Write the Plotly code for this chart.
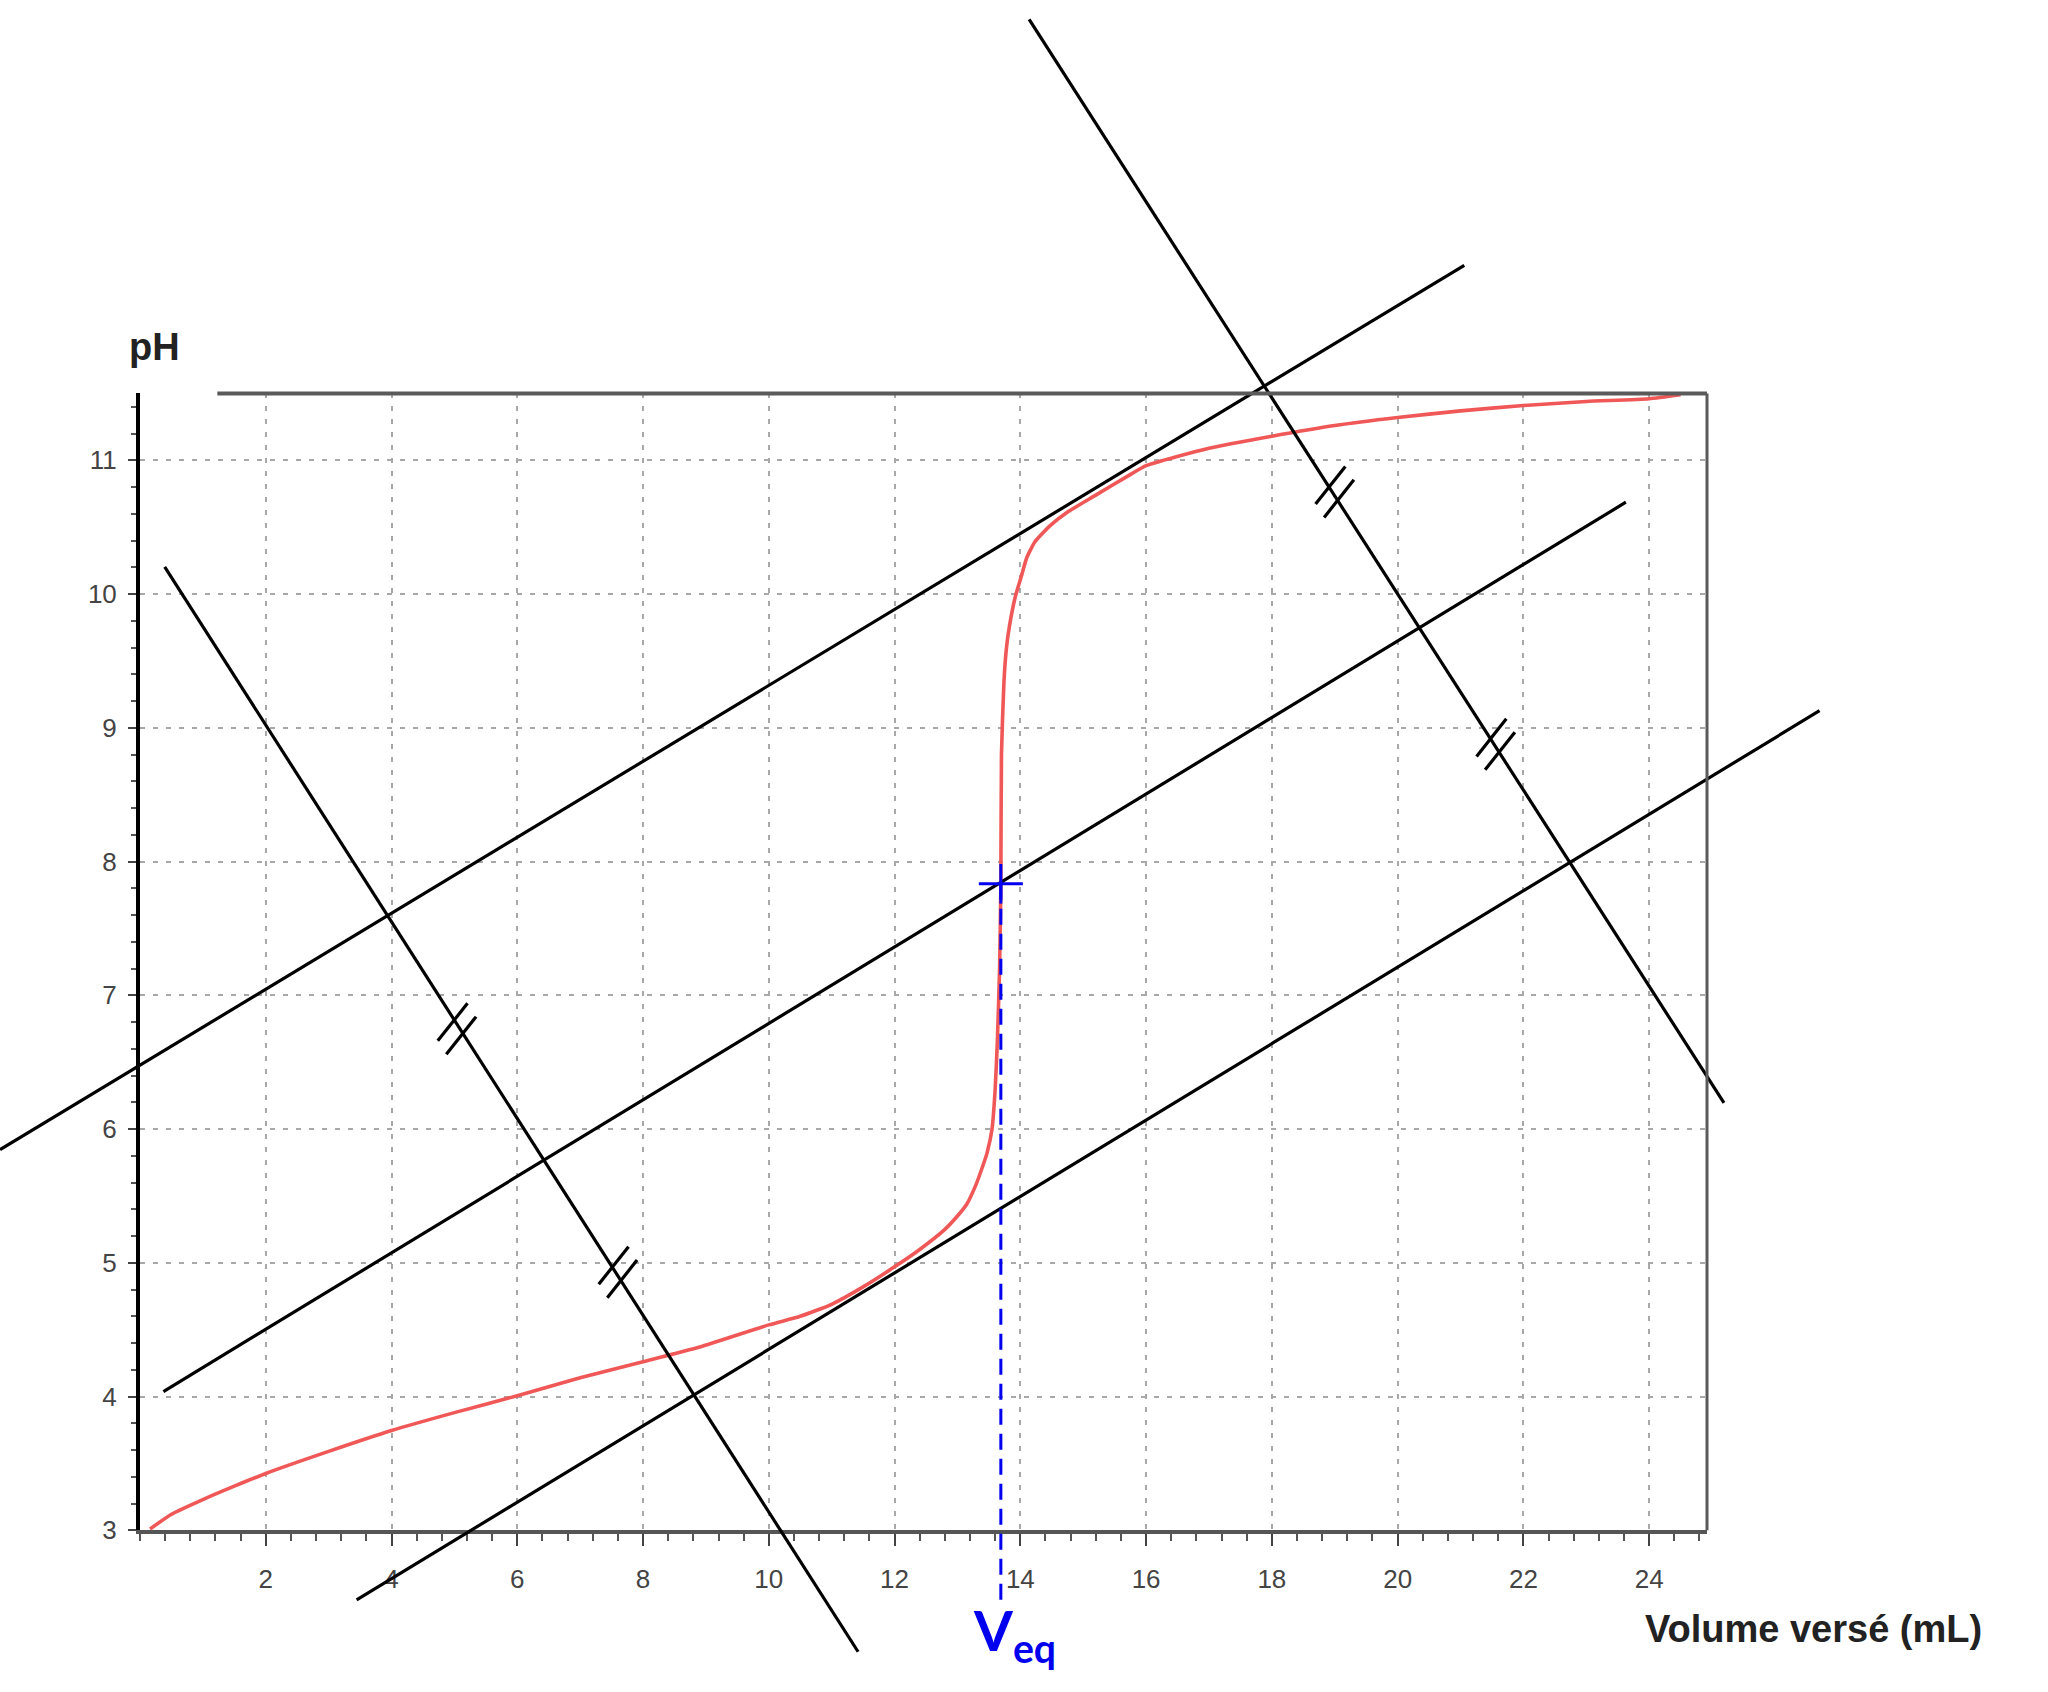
import plotly.graph_objects as go

# ---------------- data ----------------
volume_ml = [0.16, 0.5, 1, 1.5, 2, 3, 4, 5, 6, 7, 8, 8.9, 10, 10.5, 11, 11.5, 12,
             12.4, 12.8, 13.0, 13.15, 13.3, 13.4, 13.47, 13.55, 13.6, 13.635,
             13.67, 13.69, 13.70, 13.74, 13.78, 13.83, 13.92, 14.02, 14.10, 14.23,
             14.47, 14.74, 15.2, 15.7, 16, 17, 18, 19, 20, 21, 22, 23, 24, 24.5]
ph_values = [3.01, 3.12, 3.23, 3.33, 3.425, 3.59, 3.746, 3.88, 4.006, 4.14, 4.26,
             4.37, 4.536, 4.60, 4.69, 4.82, 4.97, 5.10, 5.25, 5.35, 5.44, 5.59,
             5.72, 5.82, 6.0, 6.3, 6.66, 7.2, 7.83, 8.8, 9.35, 9.6, 9.77, 9.98,
             10.14, 10.27, 10.39, 10.51, 10.61, 10.74, 10.88, 10.96, 11.09, 11.18,
             11.26, 11.32, 11.37, 11.41, 11.44, 11.46, 11.49]

x_tick_vals = [2, 4, 6, 8, 10, 12, 14, 16, 18, 20, 22, 24]
y_tick_vals = [3, 4, 5, 6, 7, 8, 9, 10, 11]

# construction lines (three parallel tangents), endpoints in (mL, pH)
tangent_v0 = [-2.225, 0.372, 3.445]
tangent_ph0 = [5.846, 4.0375, 2.48]
tangent_v1 = [21.06, 23.63, 26.71]
tangent_ph1 = [12.458, 10.687, 9.128]

# perpendicular lines
perp_v0 = [0.393, 14.14]
perp_ph0 = [10.203, 14.297]
perp_v1 = [11.42, 25.19]
perp_ph1 = [2.092, 6.196]

# equal-length marks (double hash) centres
hash_v = [5.04, 7.60, 19.00, 21.56]
hash_ph = [6.75, 4.93, 10.764, 8.877]

# equivalence point
v_eq = 13.69
ph_eq = 7.834
veq_line_bottom_ph = 2.44

# ---------------- layout geometry ----------------
W, H = 2048, 1692
PL, PR, PT, PB = 140, 1707, 397, 1544
X_RANGE = [0, 24.92]
Y_RANGE = [3, 11.5]
sx = (PR - PL) / (X_RANGE[1] - X_RANGE[0])
sy = (PB - PT) / (Y_RANGE[1] - Y_RANGE[0])
x2_range = [X_RANGE[0] - PL / sx, X_RANGE[1] + (W - PR) / sx]
y2_range = [Y_RANGE[0] - (H - PB) / sy, Y_RANGE[1] + PT / sy]

fig = go.Figure()

# titration curve
fig.add_trace(go.Scatter(x=volume_ml, y=ph_values, mode="lines",
                         line=dict(color="#f05858", width=3.6, shape="spline",
                                   smoothing=0.5),
                         xaxis="x", yaxis="y", hoverinfo="skip",
                         showlegend=False))

# black construction lines on overlay axes
bx, by = [], []
for a, b, c, d in zip(tangent_v0, tangent_ph0, tangent_v1, tangent_ph1):
    bx += [a, c, None]
    by += [b, d, None]
for a, b, c, d in zip(perp_v0, perp_ph0, perp_v1, perp_ph1):
    bx += [a, c, None]
    by += [b, d, None]
# hash marks: two short strokes across the perpendicular line
for hv, hp in zip(hash_v, hash_ph):
    for off in (-8, 8):
        cxp = 0.535 * off
        cyp = 0.845 * off
        half = 24
        dxp, dyp = 0.62 * half, -0.79 * half
        x0 = hv + (cxp - dxp) / sx
        x1 = hv + (cxp + dxp) / sx
        y0 = hp - (cyp - dyp) / sy
        y1 = hp - (cyp + dyp) / sy
        bx += [x0, x1, None]
        by += [y0, y1, None]
fig.add_trace(go.Scatter(x=bx, y=by, mode="lines",
                         line=dict(color="black", width=3.2),
                         xaxis="x2", yaxis="y2", hoverinfo="skip",
                         showlegend=False))

# blue cross and dashed line
cross_half_v = 22 / sx
cross_half_ph = 20 / sy
fig.add_trace(go.Scatter(
    x=[v_eq - cross_half_v, v_eq + cross_half_v, None, v_eq, v_eq],
    y=[ph_eq, ph_eq, None, ph_eq + cross_half_ph, ph_eq - cross_half_ph],
    mode="lines", line=dict(color="#0000ee", width=3),
    xaxis="x2", yaxis="y2", hoverinfo="skip", showlegend=False))
fig.add_trace(go.Scatter(
    x=[v_eq, v_eq], y=[ph_eq, veq_line_bottom_ph],
    mode="lines", line=dict(color="#0000ee", width=3, dash="16px,9px"),
    xaxis="x2", yaxis="y2", hoverinfo="skip", showlegend=False))

tick_font = dict(family="Liberation Sans, Arial, sans-serif", size=26, color="#444")

fig.update_layout(
    width=W, height=H,
    margin=dict(l=0, r=0, t=0, b=0),
    paper_bgcolor="white",
    plot_bgcolor="rgba(0,0,0,0)",
    showlegend=False,
    xaxis=dict(domain=[PL / W, PR / W], range=X_RANGE, anchor="y",
               tickvals=x_tick_vals, ticktext=[str(v) for v in x_tick_vals],
               tickfont=tick_font, ticks="outside", ticklen=12, tickwidth=2,
               tickcolor="#444", ticklabelstandoff=10,
               showline=True, linecolor="#555", linewidth=4,
               showgrid=True, gridcolor="#a8a8a8", gridwidth=2,
               griddash="5px,8px", zeroline=False,
               minor=dict(dtick=0.4, tick0=0, ticks="outside", ticklen=7,
                          tickwidth=1.5, tickcolor="#555", showgrid=False)),
    yaxis=dict(domain=[(H - PB) / H, (H - PT) / H], range=Y_RANGE, anchor="x",
               tickvals=y_tick_vals, ticktext=[str(v) for v in y_tick_vals],
               tickfont=tick_font, ticks="outside", ticklen=8, tickwidth=2,
               tickcolor="#444", ticklabelstandoff=6,
               showline=True, linecolor="black", linewidth=4,
               showgrid=True, gridcolor="#a8a8a8", gridwidth=2,
               griddash="5px,8px", zeroline=False,
               minor=dict(dtick=0.2, tick0=3, ticks="outside", ticklen=5,
                          tickwidth=1.5, tickcolor="#555", showgrid=False)),
    xaxis2=dict(domain=[0, 1], range=x2_range, anchor="y2", visible=False,
                showgrid=False, zeroline=False),
    yaxis2=dict(domain=[0, 1], range=y2_range, anchor="x2", visible=False,
                showgrid=False, zeroline=False),
)

# frame: top (partial) and right borders (on the full-figure overlay axes)
fig.add_shape(type="line", xref="x2", yref="y2", x0=1.23, x1=X_RANGE[1],
              y0=Y_RANGE[1], y1=Y_RANGE[1], line=dict(color="#5a5a5a", width=4),
              layer="above")
fig.add_shape(type="line", xref="x2", yref="y2", x0=X_RANGE[1], x1=X_RANGE[1],
              y0=Y_RANGE[0], y1=Y_RANGE[1], line=dict(color="#5a5a5a", width=3),
              layer="above")

# labels
fig.add_annotation(text="<b>pH</b>", xref="paper", yref="paper",
                   x=154 / W, y=1 - 350 / H, xanchor="center", yanchor="middle",
                   showarrow=False,
                   font=dict(family="Liberation Sans, Arial, sans-serif", size=38, color="#222"))
fig.add_annotation(text="<b>Volume versé (mL)</b>", xref="paper", yref="paper",
                   x=1813 / W, y=1 - 1644 / H, xanchor="center", yanchor="middle",
                   showarrow=False,
                   font=dict(family="Liberation Sans, Arial, sans-serif", size=38, color="#222"))
fig.add_annotation(text="<b>V<sub>eq</sub></b>", xref="x2", yref="paper",
                   x=v_eq, xshift=-30, y=1 - 1648 / H, xanchor="left", yanchor="middle",
                   showarrow=False,
                   font=dict(family="Lato, Open Sans, sans-serif", size=56, color="#0000ee"))

fig.write_html("out.html", config={"displayModeBar": False},
               post_script="document.body.style.margin='0';document.body.style.overflow='hidden';document.documentElement.style.overflow='hidden';")
